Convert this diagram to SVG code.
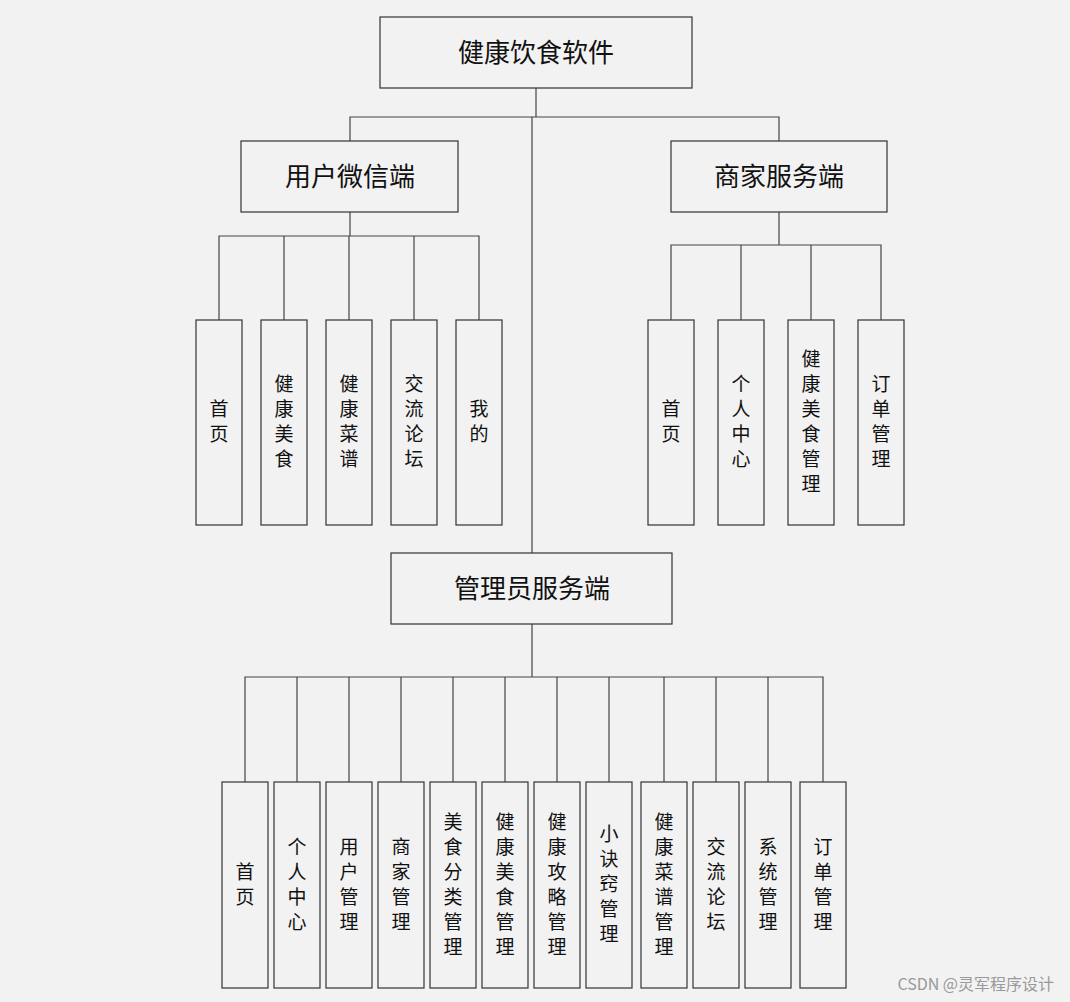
<svg xmlns="http://www.w3.org/2000/svg" width="1070" height="1002" viewBox="0 0 1070 1002">
<style>
.b{fill:#f2f2f2;stroke:#333;stroke-width:1.2}
.t{font-family:"Noto Sans CJK SC",sans-serif;fill:#111;text-anchor:middle}
.h{font-size:26px}
.v{font-size:19px}
.c{fill:none;stroke:#444;stroke-width:1.2}
</style>
<rect width="1070" height="1002" fill="#f2f2f2"/>
<g id="connectors" class="c">
<path d="M536 88V117M350 141V117H779V141M532 117V553"/>
<path d="M350 212V236M219 320V236H479V320M284 236V320M349 236V320M414 236V320"/>
<path d="M779 212V245M671 320V245H881V320M741 245V320M811 245V320"/>
<path d="M532 624V677M245 782V677H823V782M297 677V782M349 677V782M401 677V782M453 677V782M505 677V782M557 677V782M609 677V782M664 677V782M716 677V782M768 677V782"/>
</g>
<g id="root"><rect class="b" x="380" y="17" width="312" height="71"/><text class="t h" x="536" y="62">健康饮食软件</text></g>
<g id="user"><rect class="b" x="241" y="141" width="217" height="71"/><text class="t h" x="350" y="186">用户微信端</text></g>
<g id="merchant"><rect class="b" x="671" y="141" width="216" height="71"/><text class="t h" x="779" y="186">商家服务端</text></g>
<g id="admin"><rect class="b" x="391" y="553" width="281" height="71"/><text class="t h" x="532" y="598">管理员服务端</text></g>
<g id="u1"><rect class="b" x="196" y="320" width="46" height="205"/><text class="t v" x="219"><tspan x="219" y="416">首</tspan><tspan x="219" y="441">页</tspan></text></g>
<g id="u2"><rect class="b" x="261" y="320" width="46" height="205"/><text class="t v"><tspan x="284" y="391">健</tspan><tspan x="284" y="416">康</tspan><tspan x="284" y="441">美</tspan><tspan x="284" y="466">食</tspan></text></g>
<g id="u3"><rect class="b" x="326" y="320" width="46" height="205"/><text class="t v"><tspan x="349" y="391">健</tspan><tspan x="349" y="416">康</tspan><tspan x="349" y="441">菜</tspan><tspan x="349" y="466">谱</tspan></text></g>
<g id="u4"><rect class="b" x="391" y="320" width="46" height="205"/><text class="t v"><tspan x="414" y="391">交</tspan><tspan x="414" y="416">流</tspan><tspan x="414" y="441">论</tspan><tspan x="414" y="466">坛</tspan></text></g>
<g id="u5"><rect class="b" x="456" y="320" width="46" height="205"/><text class="t v"><tspan x="479" y="416">我</tspan><tspan x="479" y="441">的</tspan></text></g>
<g id="m1"><rect class="b" x="648" y="320" width="46" height="205"/><text class="t v"><tspan x="671" y="416">首</tspan><tspan x="671" y="441">页</tspan></text></g>
<g id="m2"><rect class="b" x="718" y="320" width="46" height="205"/><text class="t v"><tspan x="741" y="391">个</tspan><tspan x="741" y="416">人</tspan><tspan x="741" y="441">中</tspan><tspan x="741" y="466">心</tspan></text></g>
<g id="m3"><rect class="b" x="788" y="320" width="46" height="205"/><text class="t v"><tspan x="811" y="366">健</tspan><tspan x="811" y="391">康</tspan><tspan x="811" y="416">美</tspan><tspan x="811" y="441">食</tspan><tspan x="811" y="466">管</tspan><tspan x="811" y="491">理</tspan></text></g>
<g id="m4"><rect class="b" x="858" y="320" width="46" height="205"/><text class="t v"><tspan x="881" y="391">订</tspan><tspan x="881" y="416">单</tspan><tspan x="881" y="441">管</tspan><tspan x="881" y="466">理</tspan></text></g>
<g id="a1"><rect class="b" x="222" y="782" width="46" height="206"/><text class="t v"><tspan x="245" y="879">首</tspan><tspan x="245" y="904">页</tspan></text></g>
<g id="a2"><rect class="b" x="274" y="782" width="46" height="206"/><text class="t v"><tspan x="297" y="854">个</tspan><tspan x="297" y="879">人</tspan><tspan x="297" y="904">中</tspan><tspan x="297" y="929">心</tspan></text></g>
<g id="a3"><rect class="b" x="326" y="782" width="46" height="206"/><text class="t v"><tspan x="349" y="854">用</tspan><tspan x="349" y="879">户</tspan><tspan x="349" y="904">管</tspan><tspan x="349" y="929">理</tspan></text></g>
<g id="a4"><rect class="b" x="378" y="782" width="46" height="206"/><text class="t v"><tspan x="401" y="854">商</tspan><tspan x="401" y="879">家</tspan><tspan x="401" y="904">管</tspan><tspan x="401" y="929">理</tspan></text></g>
<g id="a5"><rect class="b" x="430" y="782" width="46" height="206"/><text class="t v"><tspan x="453" y="829">美</tspan><tspan x="453" y="854">食</tspan><tspan x="453" y="879">分</tspan><tspan x="453" y="904">类</tspan><tspan x="453" y="929">管</tspan><tspan x="453" y="954">理</tspan></text></g>
<g id="a6"><rect class="b" x="482" y="782" width="46" height="206"/><text class="t v"><tspan x="505" y="829">健</tspan><tspan x="505" y="854">康</tspan><tspan x="505" y="879">美</tspan><tspan x="505" y="904">食</tspan><tspan x="505" y="929">管</tspan><tspan x="505" y="954">理</tspan></text></g>
<g id="a7"><rect class="b" x="534" y="782" width="46" height="206"/><text class="t v"><tspan x="557" y="829">健</tspan><tspan x="557" y="854">康</tspan><tspan x="557" y="879">攻</tspan><tspan x="557" y="904">略</tspan><tspan x="557" y="929">管</tspan><tspan x="557" y="954">理</tspan></text></g>
<g id="a8"><rect class="b" x="586" y="782" width="46" height="206"/><text class="t v"><tspan x="609" y="841">小</tspan><tspan x="609" y="866">诀</tspan><tspan x="609" y="891">窍</tspan><tspan x="609" y="916">管</tspan><tspan x="609" y="941">理</tspan></text></g>
<g id="a9"><rect class="b" x="641" y="782" width="46" height="206"/><text class="t v"><tspan x="664" y="829">健</tspan><tspan x="664" y="854">康</tspan><tspan x="664" y="879">菜</tspan><tspan x="664" y="904">谱</tspan><tspan x="664" y="929">管</tspan><tspan x="664" y="954">理</tspan></text></g>
<g id="a10"><rect class="b" x="693" y="782" width="46" height="206"/><text class="t v"><tspan x="716" y="854">交</tspan><tspan x="716" y="879">流</tspan><tspan x="716" y="904">论</tspan><tspan x="716" y="929">坛</tspan></text></g>
<g id="a11"><rect class="b" x="745" y="782" width="46" height="206"/><text class="t v"><tspan x="768" y="854">系</tspan><tspan x="768" y="879">统</tspan><tspan x="768" y="904">管</tspan><tspan x="768" y="929">理</tspan></text></g>
<g id="a12"><rect class="b" x="800" y="782" width="46" height="206"/><text class="t v"><tspan x="823" y="854">订</tspan><tspan x="823" y="879">单</tspan><tspan x="823" y="904">管</tspan><tspan x="823" y="929">理</tspan></text></g>
<text x="1054" y="990" font-family="'Noto Sans CJK SC',sans-serif" font-size="16" fill="#999" text-anchor="end">CSDN @灵军程序设计</text>
</svg>
